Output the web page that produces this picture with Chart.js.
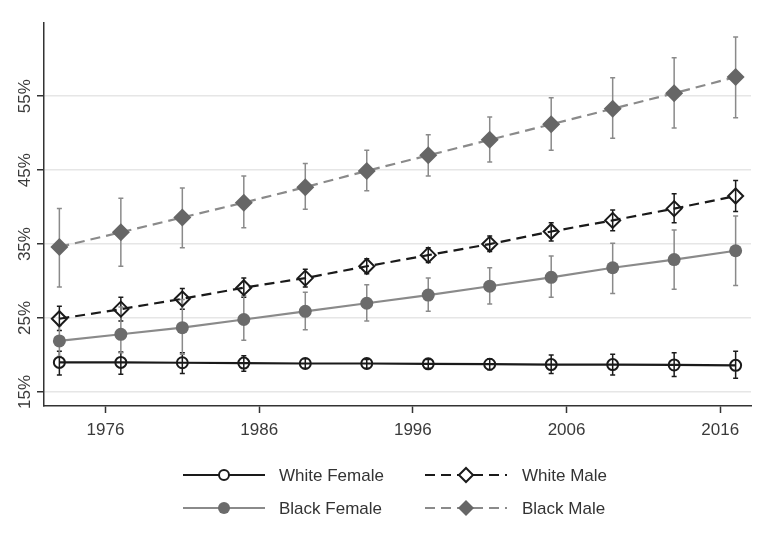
<!DOCTYPE html>
<html>
<head>
<meta charset="utf-8">
<script src="https://cdn.jsdelivr.net/npm/chart.js@4"></script>
<style>
  body { margin: 0; background: #fff; }
  #wrap { width: 768px; height: 546px; }
</style>
</head>
<body>
<div id="wrap"><canvas id="chart"></canvas></div>
<script>
const years = [1973, 1977, 1981, 1985, 1989, 1993, 1997, 2001, 2005, 2009, 2013, 2017];

const whiteFemale   = [19.0, 19.0, 18.95, 18.9, 18.85, 18.85, 18.8, 18.75, 18.7, 18.7, 18.65, 18.6];
const whiteFemaleLo = [17.3, 17.4, 17.5, 17.8, 18.2, 18.2, 18.2, 18.0, 17.5, 17.3, 17.1, 16.85];
const whiteFemaleHi = [20.5, 20.4, 20.3, 19.9, 19.5, 19.4, 19.4, 19.5, 20.0, 20.1, 20.3, 20.5];

const whiteMale   = [24.9, 26.2, 27.6, 29.1, 30.4, 32.0, 33.5, 35.0, 36.7, 38.2, 39.8, 41.5];
const whiteMaleLo = [23.3, 24.6, 26.2, 27.8, 29.2, 31.0, 32.5, 34.0, 35.4, 36.8, 37.9, 39.4];
const whiteMaleHi = [26.6, 27.8, 29.0, 30.4, 31.6, 33.0, 34.5, 36.1, 37.9, 39.6, 41.8, 43.6];

const blackFemale   = [21.9, 22.8, 23.7, 24.8, 25.9, 27.0, 28.1, 29.3, 30.5, 31.8, 32.9, 34.1];
const blackFemaleLo = [19.8, 20.3, 20.1, 22.0, 23.4, 24.6, 25.9, 26.9, 27.8, 28.3, 28.9, 29.4];
const blackFemaleHi = [24.0, 26.5, 27.5, 28.0, 28.5, 29.5, 30.4, 31.8, 33.4, 35.1, 36.9, 38.8];

const blackMale   = [34.6, 36.6, 38.6, 40.6, 42.7, 44.9, 47.0, 49.1, 51.2, 53.3, 55.4, 57.6];
const blackMaleLo = [29.2, 32.0, 34.5, 37.2, 39.7, 42.2, 44.2, 46.1, 47.7, 49.3, 50.7, 52.1];
const blackMaleHi = [39.8, 41.2, 42.6, 44.2, 45.9, 47.7, 49.8, 52.2, 54.8, 57.5, 60.2, 63.0];

const xTicks = [1976, 1986, 1996, 2006, 2016];
const yTicks = [15, 25, 35, 45, 55];

const pts = (vals) => vals.map((v, i) => ({ x: years[i], y: v }));

Chart.defaults.font.family = '"Liberation Sans", Arial, sans-serif';
Chart.defaults.font.size = 17;
Chart.defaults.color = '#3a3a3a';

// vertical error bars with small caps, drawn under the markers
const errorBars = {
  id: 'errorBars',
  beforeDatasetsDraw(chart) {
    const { ctx, scales: { x, y } } = chart;
    chart.data.datasets.forEach((ds) => {
      ctx.save();
      ctx.strokeStyle = ds.errColor;
      ctx.lineWidth = 1.5;
      ds.data.forEach((p, i) => {
        const px = x.getPixelForValue(p.x);
        const top = y.getPixelForValue(ds.errHi[i]);
        const bot = y.getPixelForValue(ds.errLo[i]);
        ctx.beginPath();
        ctx.moveTo(px, top); ctx.lineTo(px, bot);
        ctx.moveTo(px - 2.5, top); ctx.lineTo(px + 2.5, top);
        ctx.moveTo(px - 2.5, bot); ctx.lineTo(px + 2.5, bot);
        ctx.stroke();
      });
      ctx.restore();
    });
  }
};

// stata-style legend: line sample with marker in the middle, two columns
const lineLegend = {
  id: 'lineLegend',
  afterDraw(chart) {
    const { ctx } = chart;
    const cols = [{ x1: 183, x2: 265, tx: 279 }, { x1: 425, x2: 507, tx: 522 }];
    const rows = [475, 508];
    chart.data.datasets.forEach((ds, k) => {
      const c = cols[k % 2];
      const yy = rows[Math.floor(k / 2)];
      ctx.save();
      ctx.strokeStyle = ds.borderColor;
      ctx.lineWidth = ds.borderWidth;
      ctx.setLineDash(ds.borderDash || []);
      ctx.beginPath();
      ctx.moveTo(c.x1, yy); ctx.lineTo(c.x2, yy);
      ctx.stroke();
      ctx.setLineDash([]);
      ctx.fillStyle = ds.pointBackgroundColor === 'transparent' ? '#fff' : ds.pointBackgroundColor;
      ctx.strokeStyle = ds.pointBorderColor;
      ctx.lineWidth = ds.pointBorderWidth;
      Chart.helpers.drawPoint(ctx, {
        pointStyle: ds.pointStyle, radius: ds.legendRadius, rotation: 0, borderWidth: ds.pointBorderWidth
      }, (c.x1 + c.x2) / 2, yy);
      ctx.fillStyle = '#333';
      ctx.font = '17px "Liberation Sans", Arial, sans-serif';
      ctx.textBaseline = 'middle';
      ctx.fillText(ds.label, c.tx, yy + 1);
      ctx.restore();
    });
  }
};

new Chart(document.getElementById('chart'), {
  type: 'line',
  data: {
    datasets: [
      {
        label: 'White Female', data: pts(whiteFemale), errLo: whiteFemaleLo, errHi: whiteFemaleHi,
        errColor: '#1a1a1a', borderColor: '#1a1a1a', borderWidth: 2.2,
        pointStyle: 'circle', pointRadius: 5.5, legendRadius: 5, pointBorderWidth: 2,
        pointBackgroundColor: 'transparent', pointBorderColor: '#1a1a1a'
      },
      {
        label: 'White Male', data: pts(whiteMale), errLo: whiteMaleLo, errHi: whiteMaleHi,
        errColor: '#1a1a1a', borderColor: '#1a1a1a', borderWidth: 2.2, borderDash: [10, 6],
        pointStyle: 'rectRot', pointRadius: 7.5, legendRadius: 7, pointBorderWidth: 2,
        pointBackgroundColor: 'transparent', pointBorderColor: '#1a1a1a'
      },
      {
        label: 'Black Female', data: pts(blackFemale), errLo: blackFemaleLo, errHi: blackFemaleHi,
        errColor: '#8a8a8a', borderColor: '#8a8a8a', borderWidth: 2.2,
        pointStyle: 'circle', pointRadius: 6.5, legendRadius: 6, pointBorderWidth: 0,
        pointBackgroundColor: '#6b6b6b', pointBorderColor: '#6b6b6b'
      },
      {
        label: 'Black Male', data: pts(blackMale), errLo: blackMaleLo, errHi: blackMaleHi,
        errColor: '#8a8a8a', borderColor: '#8a8a8a', borderWidth: 2.2, borderDash: [10, 6],
        pointStyle: 'rectRot', pointRadius: 9, legendRadius: 8, pointBorderWidth: 0,
        pointBackgroundColor: '#666666', pointBorderColor: '#666666'
      }
    ]
  },
  options: {
    responsive: true,
    maintainAspectRatio: false,
    animation: false,
    layout: { padding: { top: 23, right: 17, bottom: 100, left: 0 } },
    plugins: { legend: { display: false }, tooltip: { enabled: false } },
    scales: {
      x: {
        type: 'linear', min: 1972, max: 2018,
        afterBuildTicks: (s) => { s.ticks = xTicks.map(v => ({ value: v })); },
        afterFit: (s) => { s.height = 40; },
        border: { color: '#333', width: 1.5 },
        grid: { drawOnChartArea: false, tickLength: 7, tickColor: '#333', tickWidth: 1.5 },
        ticks: { padding: 7, maxRotation: 0, callback: (v) => String(v) }
      },
      y: {
        min: 13.1, max: 64.9,
        afterBuildTicks: (s) => { s.ticks = yTicks.map(v => ({ value: v })); },
        afterFit: (s) => { s.width = 44; },
        border: { color: '#333', width: 1.5 },
        grid: { color: '#e6e6e6', lineWidth: 1.5, tickLength: 7, tickColor: '#333', tickWidth: 1.5 },
        ticks: { minRotation: 90, maxRotation: 90, crossAlign: 'center', padding: -5, callback: (v) => v + '%' }
      }
    }
  },
  plugins: [errorBars, lineLegend]
});
</script>
</body>
</html>
